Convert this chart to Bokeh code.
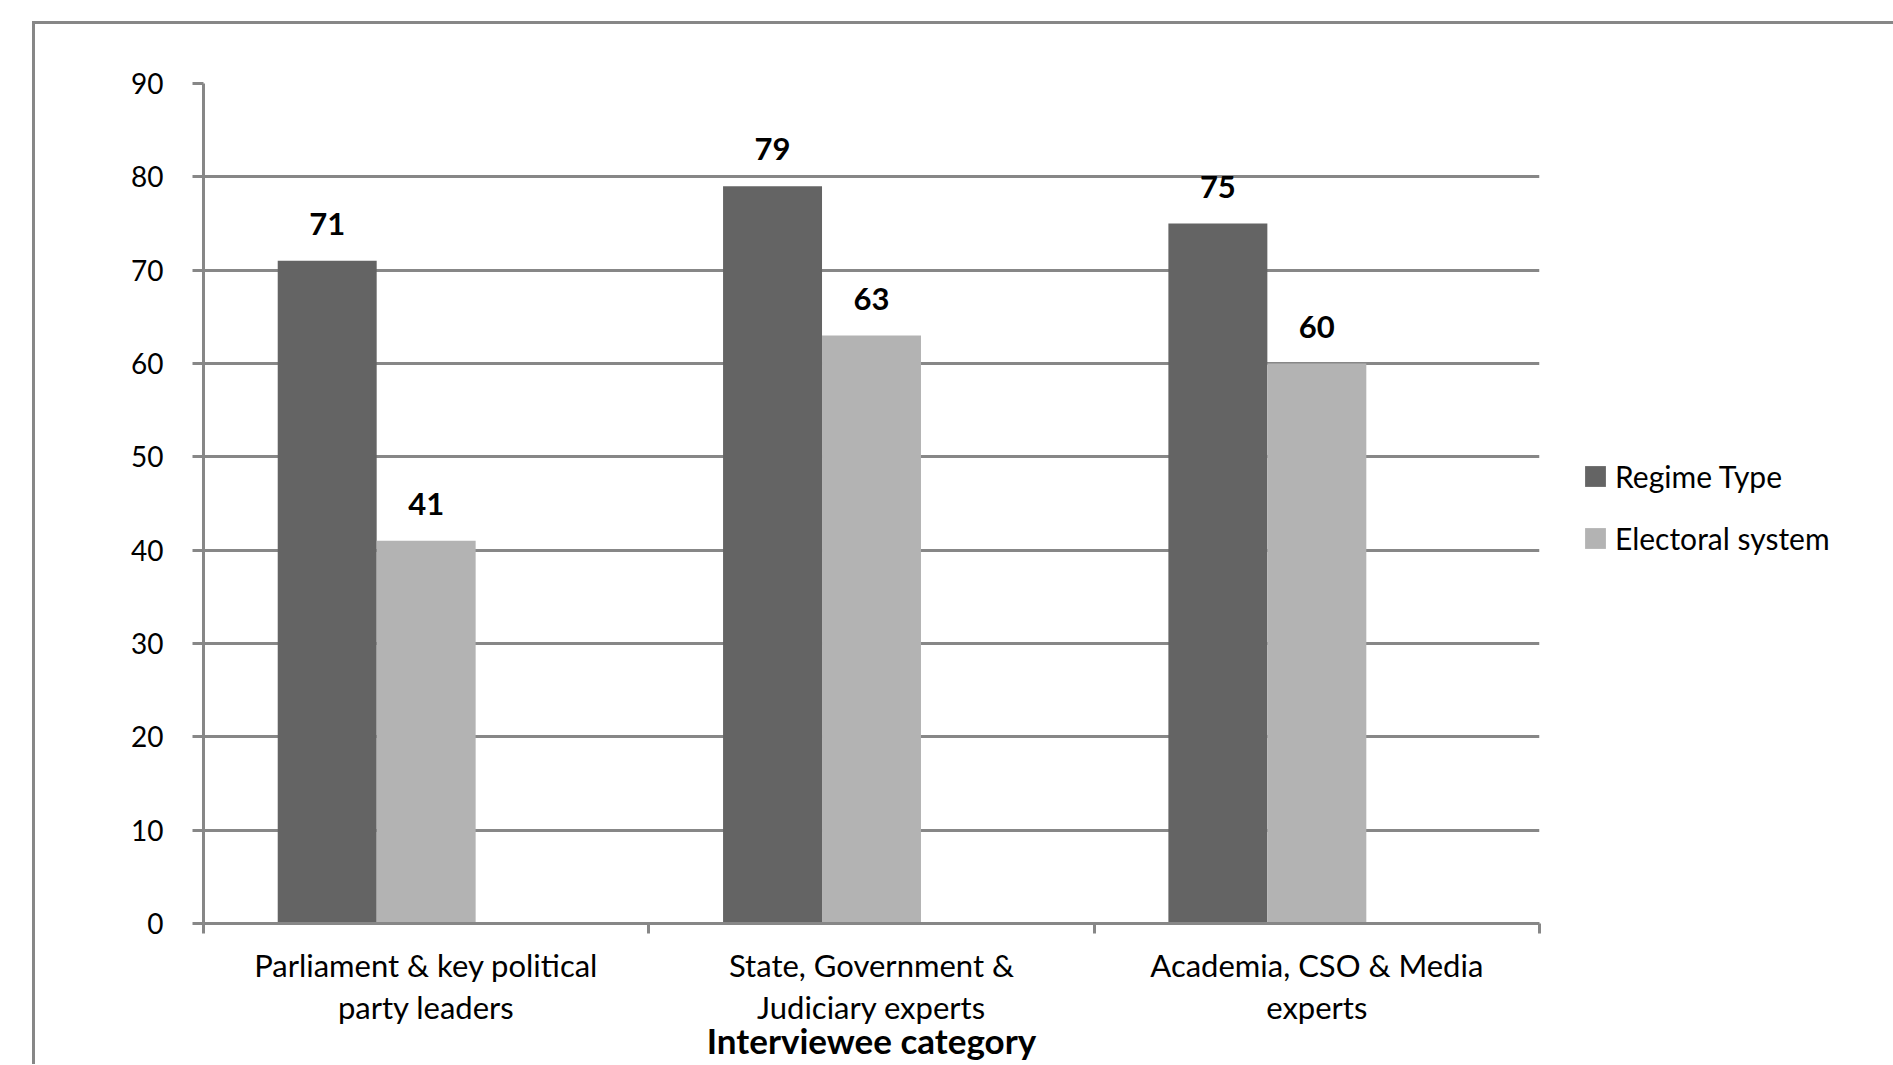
from bokeh.plotting import figure
from bokeh.models import (ColumnDataSource, FixedTicker, Legend, LegendItem,
                          LabelSet, Label, Range1d)
from bokeh.core.properties import value
from bokeh.embed import file_html
from bokeh.resources import INLINE

# ---- data ----
categories = ["Parliament & key political\nparty leaders",
              "State, Government &\nJudiciary experts",
              "Academia, CSO & Media\nexperts"]
regime_type = [71, 79, 75]
electoral_system = [41, 63, 60]
y_ticks = [0, 10, 20, 30, 40, 50, 60, 70, 80, 90]
series_names = ["Regime Type", "Electoral system"]

FONT = "Lato"
GRID = "#878787"
DARK = "#646464"
LIGHT = "#b3b3b3"
BAR_W = 2 / 9

centers = [i + 0.5 for i in range(len(categories))]
src = ColumnDataSource(dict(
    xc=centers,
    x_dark=[c - BAR_W for c in centers],
    x_light=centers,
    regime=regime_type,
    electoral=electoral_system,
    regime_txt=[str(v) for v in regime_type],
    electoral_txt=[str(v) for v in electoral_system],
))

p = figure(frame_width=1336, frame_height=840,
           min_border_left=168, min_border_top=59,
           min_border_right=346, min_border_bottom=131,
           x_range=Range1d(0, len(categories)), y_range=Range1d(0, 90),
           output_backend="svg", toolbar_location=None)
p.styles = {"margin-left": "32px", "margin-top": "21px",
            "border-left": "3px solid #878787", "border-top": "3px solid #878787"}
p.outline_line_color = None
p.background_fill_color = "white"
p.border_fill_color = "white"

r1 = p.vbar(x="x_dark", top="regime", width=BAR_W, source=src,
            fill_color=DARK, line_color=None)
r2 = p.vbar(x="x_light", top="electoral", width=BAR_W, source=src,
            fill_color=LIGHT, line_color=None)

for col, txt in (("x_dark", "regime"), ("x_light", "electoral")):
    ls = LabelSet(x=col, y=txt, text=txt + "_txt", source=src,
                  text_align="center", text_baseline="middle", y_offset=37,
                  text_font=value(FONT), text_font_style="bold",
                  text_font_size="31px", text_color="black")
    p.add_layout(ls)

# y axis
p.yaxis.ticker = FixedTicker(ticks=y_ticks)
p.yaxis.axis_line_color = GRID
p.yaxis.axis_line_width = 3
p.yaxis.major_tick_line_color = GRID
p.yaxis.major_tick_line_width = 3
p.yaxis.major_tick_out = 11
p.yaxis.major_tick_in = 0
p.yaxis.minor_tick_line_color = None
p.yaxis.major_label_text_font = FONT
p.yaxis.major_label_text_font_size = "28px"
p.yaxis.major_label_text_color = "black"
p.yaxis.major_label_standoff = 29

# x axis
p.xaxis.ticker = FixedTicker(ticks=centers, minor_ticks=list(range(len(categories) + 1)))
p.xaxis.major_label_overrides = {c: lab for c, lab in zip(centers, categories)}
p.xaxis.axis_line_color = GRID
p.xaxis.axis_line_width = 3
p.xaxis.major_tick_line_color = None
p.xaxis.major_tick_out = 0
p.xaxis.major_tick_in = 0
p.xaxis.minor_tick_line_color = GRID
p.xaxis.minor_tick_line_width = 3
p.xaxis.minor_tick_out = 10
p.xaxis.minor_tick_in = 0
p.xaxis.major_label_text_font = FONT
p.xaxis.major_label_text_font_size = "31px"
p.xaxis.major_label_text_color = "black"
p.xaxis.major_label_text_line_height = 1.12
p.xaxis.major_label_standoff = 12
p.xaxis.axis_label = "Interviewee category"
p.xaxis.axis_label_text_font = FONT
p.xaxis.axis_label_text_font_style = "bold"
p.xaxis.axis_label_text_font_size = "35px"
p.xaxis.axis_label_text_color = "black"
p.xaxis.axis_label_standoff = -10

# grid
p.xgrid.grid_line_color = None
p.ygrid.ticker = FixedTicker(ticks=y_ticks)
p.ygrid.grid_line_color = GRID
p.ygrid.grid_line_width = 3

legend = Legend(items=[LegendItem(label=series_names[0], renderers=[r1]),
                       LegendItem(label=series_names[1], renderers=[r2])],
                location=(43, 367))
legend.glyph_width = 26
legend.glyph_height = 26
legend.label_text_font = FONT
legend.label_text_font_size = "30px"
legend.label_text_color = "black"
legend.label_standoff = 7
legend.spacing = 26
legend.padding = 0
legend.margin = 0
legend.border_line_color = None
legend.background_fill_alpha = 0
p.add_layout(legend, "right")

tiny = Label(x=-92, y=327, x_units="screen", y_units="screen", text="Percentage",
             text_font=FONT, text_font_size="4px", text_color="#333333",
             text_baseline="middle")
p.add_layout(tiny)

open("out.html", "w").write(file_html(p, INLINE))
